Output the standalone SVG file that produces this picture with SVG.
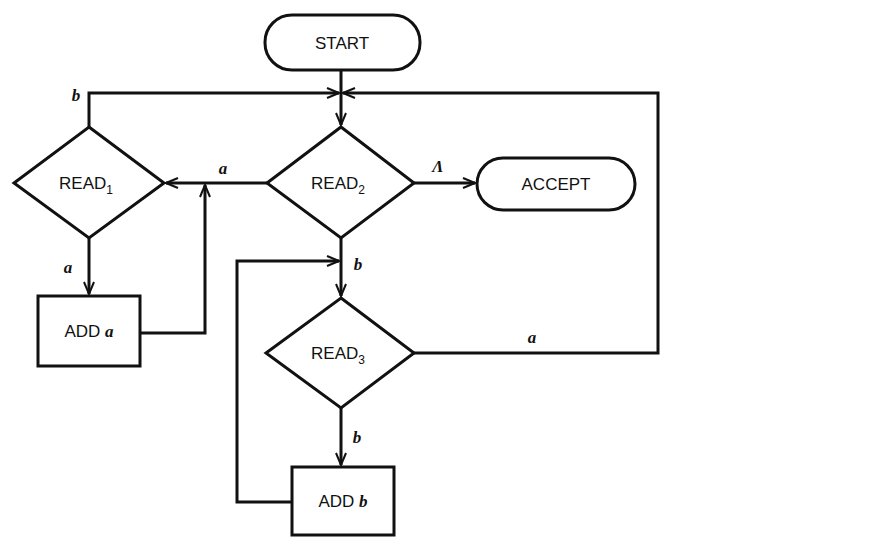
<svg xmlns="http://www.w3.org/2000/svg" width="890" height="550" viewBox="0 0 890 550">
<defs>
<style>
.s{fill:#fff;stroke:#111;stroke-width:3}
.c{fill:none;stroke:#111;stroke-width:3}
.t{font-family:"Liberation Sans",Arial,sans-serif;font-size:17px;fill:#111;text-anchor:middle}
.l{font-family:"Liberation Serif","Times New Roman",serif;font-style:italic;font-weight:bold;font-size:17px;fill:#111;text-anchor:middle}
</style>
<marker id="ar" viewBox="0 0 14 12" refX="13" refY="6" markerWidth="14" markerHeight="12" markerUnits="userSpaceOnUse" orient="auto">
<path d="M1,1 L13,6 L1,11" fill="none" stroke="#111" stroke-width="2"/>
</marker>
</defs>
<g id="connectors">
<path class="c" d="M341,70 V125" marker-end="url(#ar)"/>
<path class="c" d="M89,127 V93 H339" marker-end="url(#ar)"/>
<path class="c" d="M414,353 H658 V93 H343" marker-end="url(#ar)"/>
<path class="c" d="M267,183 H166" marker-end="url(#ar)"/>
<path class="c" d="M140,333 H205 V185" marker-end="url(#ar)"/>
<path class="c" d="M414,183 H475" marker-end="url(#ar)"/>
<path class="c" d="M89,238 V294" marker-end="url(#ar)"/>
<path class="c" d="M341,238 V296" marker-end="url(#ar)"/>
<path class="c" d="M292,502 H237 V261 H339" marker-end="url(#ar)"/>
<path class="c" d="M341,408 V465" marker-end="url(#ar)"/>
<text class="l" x="76" y="101">b</text>
<text class="l" x="223" y="174">a</text>
<text class="l" x="438" y="172" font-style="normal" font-weight="normal">Λ</text>
<text class="l" x="68" y="273">a</text>
<text class="l" x="358" y="270">b</text>
<text class="l" x="532" y="343">a</text>
<text class="l" x="357" y="443">b</text>
</g>
<g id="start"><rect class="s" x="265" y="15" width="155" height="55" rx="27"/><text class="t" x="342" y="49">START</text></g>
<g id="read1"><polygon class="s" points="89,127 164,183 89,238 14,183"/><text class="t" x="86" y="189">READ<tspan font-size="12" dy="5">1</tspan></text></g>
<g id="read2"><polygon class="s" points="341,127 414,183 341,238 267,183"/><text class="t" x="338" y="189">READ<tspan font-size="12" dy="5">2</tspan></text></g>
<g id="accept"><rect class="s" x="477" y="158" width="158" height="52" rx="26"/><text class="t" x="556" y="190">ACCEPT</text></g>
<g id="adda"><rect class="s" x="38" y="296" width="102" height="70"/><text class="t" x="89" y="337">ADD <tspan font-family="Liberation Serif,serif" font-style="italic" font-weight="bold">a</tspan></text></g>
<g id="read3"><polygon class="s" points="341,298 414,353 341,408 266,353"/><text class="t" x="338" y="359">READ<tspan font-size="12" dy="5">3</tspan></text></g>
<g id="addb"><rect class="s" x="292" y="467" width="102" height="68"/><text class="t" x="343" y="507">ADD <tspan font-family="Liberation Serif,serif" font-style="italic" font-weight="bold">b</tspan></text></g>
</svg>
